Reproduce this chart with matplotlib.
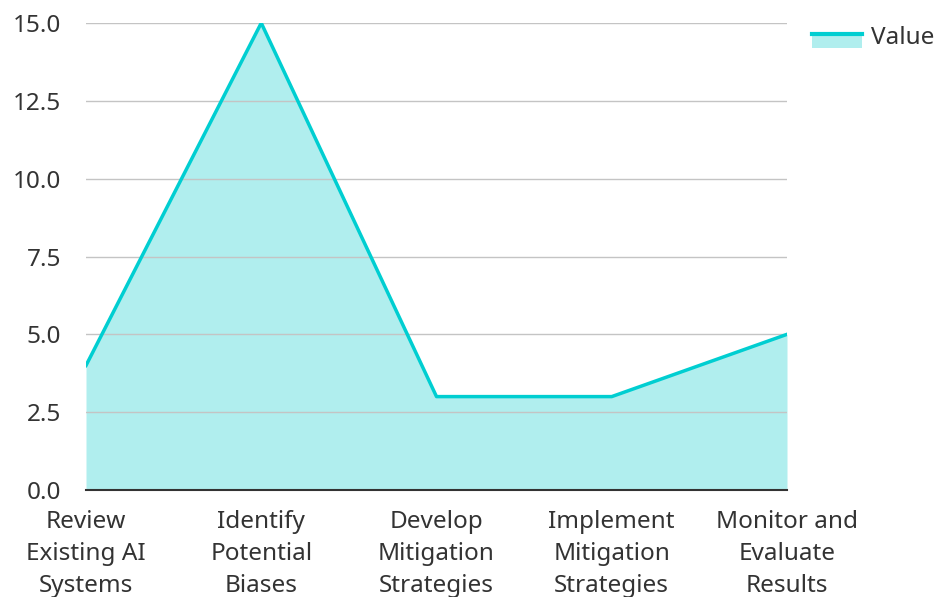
import numpy as np
import matplotlib.pyplot as plt
from matplotlib.patches import Rectangle
from matplotlib.lines import Line2D

# chart data
categories = ["Review\nExisting AI\nSystems", "Identify\nPotential\nBiases",
              "Develop\nMitigation\nStrategies", "Implement\nMitigation\nStrategies",
              "Monitor and\nEvaluate\nResults"]
values = [4, 15, 3, 3, 5]
yticks = [0.0, 2.5, 5.0, 7.5, 10.0, 12.5, 15.0]

plt.rcParams['font.family'] = ['Noto Sans', 'DejaVu Sans']

LINE_C = "#00ced1"
FILL_C = "#b0eeee"

# 凡例: 塗りの上端に線を描く
class AreaHandler:
    def legend_artist(self, legend, orig_handle, fontsize, handlebox):
        x0, y0 = handlebox.xdescent, handlebox.ydescent
        w, h = handlebox.width, handlebox.height
        tr = handlebox.get_transform()
        rect = Rectangle((x0, y0 - 0.25 * h), w, h, facecolor=FILL_C,
                         edgecolor="none", transform=tr)
        line = Line2D([x0, x0 + w], [y0 + 0.62 * h, y0 + 0.62 * h], color=LINE_C,
                      linewidth=3, transform=tr)
        handlebox.add_artist(rect)
        handlebox.add_artist(line)
        return rect

def main():
    fig = plt.figure(figsize=(9.37, 5.97), dpi=100)
    ax = fig.add_axes([86 / 937, 1 - 490 / 597, (787 - 86) / 937, (490 - 23) / 597])

    x = np.arange(len(values))
    ax.fill_between(x, values, 0, color=FILL_C, linewidth=0, zorder=1)
    ax.plot(x, values, color=LINE_C, linewidth=2.5, zorder=3)

    fig.legend([Rectangle((0, 0), 1, 1)], ["Value"], loc="upper left",
               handler_map={Rectangle: AreaHandler()},
               bbox_to_anchor=(812 / 937, 1 - 26 / 597), frameon=False,
               borderpad=0, borderaxespad=0,
               fontsize=17.5, handlelength=2.06, handleheight=0.66, handletextpad=0.37,
               labelcolor="#333333")

    ax.set_xlim(0, len(values) - 1)
    ax.set_ylim(0, 15)
    ax.set_yticks(yticks)
    ax.set_yticklabels([f"{v:.1f}" for v in yticks])
    ax.set_xticks(x)
    ax.set_xticklabels(categories, linespacing=1.45)
    ax.tick_params(axis="both", length=0, labelsize=17.5, labelcolor="#333333")
    ax.tick_params(axis="x", pad=14.5)
    ax.tick_params(axis="y", pad=18)

    ax.grid(axis="y", color="#c4c4c4", linewidth=1, zorder=2)
    ax.set_axisbelow(False)
    for s in ["top", "right", "left"]:
        ax.spines[s].set_visible(False)
    ax.spines["bottom"].set_color("#333333")
    ax.spines["bottom"].set_linewidth(1.5)
    ax.spines["bottom"].set_zorder(4)

    fig.savefig("out.png", dpi=100)

if __name__ == '__main__':
    main()
